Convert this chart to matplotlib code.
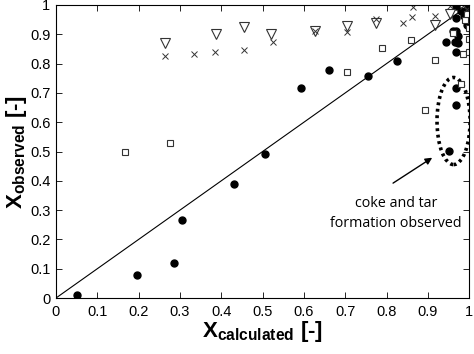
import matplotlib
matplotlib.use("Agg")
import matplotlib.pyplot as plt
from matplotlib.patches import Ellipse

plt.rcParams['font.family'] = ['Liberation Sans', 'DejaVu Sans']
plt.rcParams['mathtext.fontset'] = 'custom'
plt.rcParams['mathtext.rm'] = 'Liberation Sans'
plt.rcParams['mathtext.bf'] = 'Liberation Sans:bold'

# filled circles
circ_x = [0.05, 0.195, 0.286, 0.305, 0.432, 0.507, 0.593, 0.66, 0.756, 0.824,
          0.943, 0.969, 0.967, 0.951, 0.969, 0.981, 0.969, 0.987, 0.993, 0.961,
          0.969, 0.973, 0.965, 0.973, 0.967, 0.997, 0.998, 0.996, 0.999, 0.995]
circ_y = [0.01, 0.079, 0.119, 0.267, 0.39, 0.49, 0.717, 0.778, 0.756, 0.81,
          0.874, 0.718, 0.657, 0.501, 0.998, 0.981, 0.954, 0.961, 0.95, 0.912,
          0.912, 0.893, 0.874, 0.869, 0.84, 0.99, 0.975, 0.96, 0.945, 0.93]

# open squares
sq_x = [0.168, 0.276, 0.705, 0.79, 0.858, 0.916, 0.892, 0.981, 0.961,
        0.985, 0.999, 0.999, 0.999, 0.99, 0.995]
sq_y = [0.499, 0.528, 0.772, 0.852, 0.881, 0.812, 0.641, 0.729, 0.904,
        0.831, 0.841, 0.884, 0.92, 0.95, 0.97]

# open down triangles
tri_x = [0.263, 0.388, 0.455, 0.52, 0.626, 0.705, 0.774, 0.916, 0.953]
tri_y = [0.87, 0.901, 0.924, 0.901, 0.912, 0.929, 0.938, 0.932, 0.969]

# crosses
cr_x = [0.263, 0.333, 0.386, 0.455, 0.524, 0.626, 0.705, 0.774, 0.839,
        0.862, 0.865, 0.916, 0.953, 0.985, 0.995]
cr_y = [0.826, 0.831, 0.838, 0.847, 0.872, 0.912, 0.909, 0.952, 0.938,
        0.958, 0.992, 0.961, 0.998, 0.998, 0.985]

tick_vals = [i / 10 for i in range(11)]
tick_labels = ['0', '0.1', '0.2', '0.3', '0.4', '0.5', '0.6', '0.7', '0.8', '0.9', '1']

fig = plt.figure(figsize=(4.74, 3.54), dpi=100)
ax = fig.add_axes([0.118, 0.158, 0.872, 0.828])

ax.plot([0, 1], [0, 1], color='black', lw=0.8)
ax.plot(circ_x, circ_y, 'o', color='black', ms=5, ls='none')
ax.plot(sq_x, sq_y, 's', mfc='white', mec='#333333', ms=5, mew=0.8, ls='none')
ax.plot(tri_x, tri_y, 'v', mfc='none', mec='#333333', ms=6.5, mew=0.8, ls='none')
ax.plot(cr_x, cr_y, 'x', color='#333333', ms=4.5, mew=0.7, ls='none')

ax.add_patch(Ellipse((0.962, 0.604), 0.08, 0.297, fill=False, ls=(0, (0.8, 1.0)),
                     lw=2.6, color='black'))
ax.annotate('', xy=(0.916, 0.484), xytext=(0.81, 0.387),
            arrowprops=dict(arrowstyle='-|>', color='black', lw=1, mutation_scale=10))
ax.text(0.822, 0.29, 'coke and tar\nformation observed', ha='center', va='center',
        fontsize=10.3, family='Open Sans', linespacing=1.45)

ax.set_xlim(0, 1)
ax.set_ylim(0, 1)
ax.set_xticks(tick_vals)
ax.set_yticks(tick_vals)
ax.set_xticklabels(tick_labels)
ax.set_yticklabels(tick_labels)
ax.tick_params(direction='in', top=True, right=True, length=4, width=0.6, labelsize=10.5)
ax.tick_params(axis='x', pad=5)
ax.tick_params(axis='y', pad=4)
for s in ax.spines.values():
    s.set_linewidth(0.8)

ax.set_xlabel(r'$\mathbf{X}_{\mathbf{calculated}}$ [-]', fontsize=16, fontweight='bold', labelpad=0)
ax.set_ylabel(r'$\mathbf{X}_{\mathbf{observed}}$ [-]', fontsize=16, fontweight='bold', labelpad=1)

fig.savefig('out.png', dpi=100)
